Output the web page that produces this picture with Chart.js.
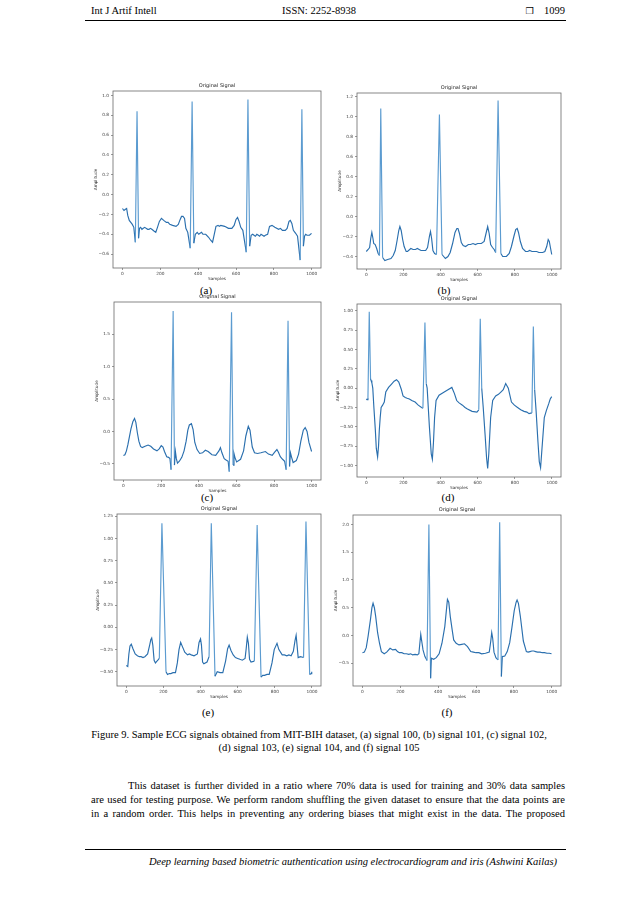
<!DOCTYPE html>
<html>
<head>
<meta charset="utf-8">
<script src="https://cdn.jsdelivr.net/npm/chart.js@4.4.0/dist/chart.umd.min.js"></script>
<style>
  body { margin: 0; background: #fff; }
  #page { position: relative; width: 638px; height: 902px; overflow: hidden; background: #fff;
          font-family: "Liberation Serif", "Times New Roman", serif; color: #000; }
  .t { position: absolute; font-size: 10.5px; line-height: 12px; white-space: nowrap; }
  .c { left: 0; width: 638px; text-align: center; }
  .j { position: absolute; font-size: 10.5px; line-height: 12px; text-align: justify; text-align-last: justify; white-space: nowrap; }
  .lab { position: absolute; width: 40px; font-size: 11px; line-height: 12px; text-align: center; }
  .plot { position: absolute; }
  .rule { position: absolute; left: 85px; width: 481px; height: 0; border-top: 0.8px solid #000; }
</style>
</head>
<body>
<div id="page">
  <div class="t" style="left:91px; top:5px;">Int J Artif Intell</div>
  <div class="t c" style="top:5px;">ISSN: 2252-8938</div>
  <div class="t" style="right:73px; top:5px;"><span style="font-family:'DejaVu Sans';font-size:9px;">&#10066;</span>&nbsp;&nbsp;&nbsp;&nbsp;1099</div>
  <div class="rule" style="top:20px;"></div>

  <div class="lab" style="left:186px; top:284px;">(a)</div>
  <div class="lab" style="left:424px; top:284px;">(b)</div>
  <div class="lab" style="left:187px; top:491px;">(c)</div>
  <div class="lab" style="left:428px; top:491px;">(d)</div>
  <div class="lab" style="left:188px; top:706px;">(e)</div>
  <div class="lab" style="left:427px; top:706px;">(f)</div>

  <div class="t c" style="top:729px;">Figure 9. Sample ECG signals obtained from MIT-BIH dataset, (a) signal 100, (b) signal 101, (c) signal 102,</div>
  <div class="t c" style="top:742px;">(d) signal 103, (e) signal 104, and (f) signal 105</div>

  <div class="j" style="left:128px; width:437px; top:780px;">This dataset is further divided in a ratio where 70% data is used for training and 30% data samples</div>
  <div class="j" style="left:91px; width:474px; top:794px;">are used for testing purpose. We perform random shuffling the given dataset to ensure that the data points are</div>
  <div class="j" style="left:91px; width:474px; top:808px;">in a random order. This helps in preventing any ordering biases that might exist in the data. The proposed</div>

  <div class="rule" style="top:849px;"></div>
  <div class="t" style="right:81px; top:856px; font-style:italic;">Deep learning based biometric authentication using electrocardiogram and iris (Ashwini Kailas)</div>
</div>

<script>
// sample index ticks shared by every panel
const sampleTicks = [0, 200, 400, 600, 800, 1000];

// [sample, amplitude]
// (a) signal 100
const sig100 = [[0,-0.14],[8,-0.16],[14,-0.15],[22,-0.14],[28,-0.21],[36,-0.26],[44,-0.28],[52,-0.30],[60,-0.33],[68,-0.48],[77,0.84],[85,-0.44],[90,-0.34],[96,-0.33],[103,-0.35],[110,-0.34],[118,-0.33],[125,-0.34],[133,-0.35],[140,-0.35],[148,-0.34],[155,-0.35],[168,-0.37],[176,-0.38],[185,-0.33],[195,-0.27],[206,-0.24],[218,-0.26],[232,-0.28],[241,-0.28],[250,-0.30],[265,-0.31],[283,-0.32],[295,-0.30],[305,-0.25],[312,-0.22],[320,-0.22],[328,-0.24],[335,-0.34],[345,-0.38],[358,-0.54],[368,0.94],[377,-0.49],[385,-0.40],[395,-0.38],[403,-0.40],[410,-0.39],[418,-0.38],[425,-0.40],[440,-0.40],[455,-0.43],[466,-0.46],[476,-0.48],[485,-0.40],[494,-0.32],[505,-0.31],[512,-0.32],[520,-0.31],[540,-0.32],[560,-0.34],[578,-0.34],[590,-0.31],[600,-0.25],[608,-0.23],[616,-0.27],[625,-0.33],[636,-0.36],[654,-0.58],[663,0.96],[672,-0.52],[680,-0.41],[688,-0.40],[695,-0.41],[702,-0.42],[710,-0.40],[718,-0.41],[725,-0.42],[732,-0.40],[740,-0.41],[748,-0.42],[755,-0.41],[767,-0.40],[777,-0.32],[790,-0.31],[805,-0.33],[825,-0.35],[835,-0.34],[845,-0.36],[860,-0.36],[870,-0.34],[880,-0.27],[887,-0.26],[895,-0.29],[903,-0.36],[915,-0.39],[925,-0.42],[939,-0.66],[948,0.86],[956,-0.52],[962,-0.42],[968,-0.40],[975,-0.41],[988,-0.41],[999,-0.39]];

// (b) signal 101
const sig101 = [[0,-0.35],[10,-0.33],[18,-0.31],[24,-0.22],[30,-0.16],[36,-0.22],[40,-0.27],[48,-0.28],[56,-0.32],[64,-0.37],[71,-0.39],[78,1.08],[88,-0.41],[100,-0.44],[115,-0.43],[133,-0.42],[145,-0.39],[156,-0.34],[166,-0.24],[175,-0.14],[181,-0.10],[188,-0.14],[196,-0.23],[204,-0.30],[215,-0.35],[222,-0.35],[240,-0.32],[252,-0.33],[265,-0.33],[275,-0.32],[285,-0.33],[295,-0.34],[305,-0.34],[320,-0.34],[330,-0.31],[340,-0.20],[346,-0.15],[352,-0.22],[359,-0.34],[368,-0.37],[378,-0.38],[394,1.02],[408,-0.38],[426,-0.42],[440,-0.40],[452,-0.36],[465,-0.27],[478,-0.16],[488,-0.12],[494,-0.12],[502,-0.17],[512,-0.26],[522,-0.29],[535,-0.30],[550,-0.28],[562,-0.28],[575,-0.27],[588,-0.28],[600,-0.27],[610,-0.27],[620,-0.27],[635,-0.25],[645,-0.17],[654,-0.10],[662,-0.17],[670,-0.28],[680,-0.31],[689,-0.33],[697,-0.36],[710,1.16],[725,-0.37],[735,-0.40],[755,-0.40],[770,-0.37],[782,-0.30],[795,-0.20],[805,-0.13],[813,-0.12],[820,-0.16],[830,-0.25],[842,-0.32],[858,-0.35],[870,-0.35],[880,-0.34],[893,-0.35],[905,-0.35],[918,-0.35],[930,-0.36],[950,-0.36],[962,-0.35],[972,-0.30],[980,-0.23],[986,-0.25],[992,-0.31],[999,-0.38]];

// (c) signal 102
const sig102 = [[0,-0.37],[8,-0.36],[16,-0.30],[24,-0.20],[32,-0.08],[40,0.04],[50,0.15],[59,0.20],[66,0.14],[74,-0.02],[82,-0.15],[91,-0.23],[100,-0.25],[115,-0.23],[131,-0.21],[145,-0.23],[160,-0.27],[178,-0.30],[190,-0.27],[201,-0.22],[210,-0.24],[218,-0.31],[230,-0.39],[240,-0.40],[247,-0.42],[253,-0.59],[264,1.86],[271,-0.52],[276,-0.31],[281,-0.42],[287,-0.49],[297,-0.46],[310,-0.40],[322,-0.30],[333,-0.15],[342,0.02],[350,0.10],[361,0.12],[370,0.03],[379,-0.17],[391,-0.28],[405,-0.34],[420,-0.33],[435,-0.29],[450,-0.31],[470,-0.36],[490,-0.37],[507,-0.30],[515,-0.25],[523,-0.33],[535,-0.42],[545,-0.44],[556,-0.46],[562,-0.62],[574,1.84],[582,-0.52],[587,-0.34],[592,-0.40],[601,-0.47],[622,-0.43],[638,-0.30],[650,-0.07],[663,0.08],[672,0.02],[684,-0.24],[696,-0.33],[712,-0.34],[730,-0.33],[754,-0.31],[770,-0.35],[790,-0.37],[803,-0.32],[815,-0.28],[823,-0.32],[833,-0.39],[845,-0.43],[856,-0.46],[864,-0.59],[874,1.71],[882,-0.54],[887,-0.33],[893,-0.40],[901,-0.48],[918,-0.45],[930,-0.35],[942,-0.15],[955,0.02],[965,0.06],[975,0.00],[985,-0.17],[999,-0.31]];

// (d) signal 103
const sig103 = [[0,-0.14],[4,-0.15],[9,-0.12],[16,0.99],[23,0.12],[26,0.10],[30,0.07],[35,0.00],[41,-0.25],[49,-0.55],[54,-0.78],[61,-0.89],[66,-0.75],[70,-0.55],[75,-0.38],[80,-0.25],[88,-0.22],[97,-0.18],[105,-0.05],[120,0.01],[135,0.05],[150,0.09],[163,0.11],[175,0.08],[188,-0.01],[198,-0.10],[210,-0.12],[220,-0.13],[232,-0.14],[245,-0.16],[263,-0.18],[280,-0.22],[298,-0.25],[305,-0.26],[316,0.85],[323,0.06],[328,0.00],[340,-0.50],[350,-0.85],[356,-0.92],[362,-0.70],[368,-0.38],[376,-0.16],[392,-0.09],[420,-0.05],[440,-0.02],[461,0.01],[475,-0.07],[487,-0.16],[500,-0.19],[518,-0.22],[532,-0.25],[545,-0.27],[570,-0.30],[596,-0.31],[606,-0.28],[614,0.90],[622,0.00],[630,-0.25],[640,-0.60],[648,-0.90],[654,-1.04],[660,-0.85],[670,-0.38],[681,-0.16],[697,-0.10],[712,-0.08],[725,-0.05],[738,-0.02],[751,0.06],[765,0.00],[782,-0.18],[798,-0.22],[815,-0.25],[832,-0.28],[850,-0.30],[865,-0.31],[877,-0.33],[892,-0.32],[900,0.80],[907,-0.02],[915,-0.30],[925,-0.70],[932,-0.95],[939,-1.03],[946,-0.80],[959,-0.38],[970,-0.29],[983,-0.20],[991,-0.14],[999,-0.11]];

// (e) signal 104
const sig104 = [[0,-0.43],[8,-0.44],[14,-0.30],[20,-0.21],[27,-0.19],[36,-0.24],[48,-0.30],[60,-0.32],[70,-0.33],[80,-0.33],[90,-0.34],[100,-0.33],[115,-0.30],[125,-0.21],[132,-0.14],[137,-0.12],[143,-0.20],[150,-0.37],[157,-0.40],[170,-0.37],[178,-0.35],[192,1.17],[214,-0.50],[222,-0.53],[232,-0.52],[240,-0.52],[252,-0.51],[265,-0.51],[275,-0.40],[284,-0.25],[293,-0.17],[303,-0.22],[315,-0.28],[330,-0.31],[340,-0.30],[350,-0.31],[365,-0.32],[383,-0.30],[392,-0.17],[400,-0.13],[405,-0.20],[411,-0.39],[418,-0.41],[435,-0.39],[446,-0.33],[458,1.17],[478,-0.55],[490,-0.50],[505,-0.51],[520,-0.51],[535,-0.38],[546,-0.24],[554,-0.20],[564,-0.26],[576,-0.31],[588,-0.34],[600,-0.35],[612,-0.36],[625,-0.37],[640,-0.35],[646,-0.24],[652,-0.11],[658,-0.18],[664,-0.36],[672,-0.39],[690,-0.38],[705,1.15],[726,-0.56],[735,-0.54],[745,-0.54],[758,-0.53],[770,-0.53],[785,-0.40],[797,-0.25],[812,-0.18],[822,-0.25],[840,-0.31],[852,-0.31],[865,-0.32],[876,-0.31],[888,-0.32],[900,-0.27],[909,-0.15],[915,-0.09],[920,-0.20],[926,-0.34],[938,-0.33],[955,-0.34],[968,1.19],[988,-0.53],[996,-0.52],[999,-0.50]];

// (f) signal 105
const sig105 = [[0,-0.31],[10,-0.30],[20,-0.22],[30,-0.01],[42,0.28],[50,0.50],[56,0.58],[63,0.50],[70,0.34],[80,0.05],[90,-0.14],[100,-0.29],[115,-0.33],[128,-0.30],[146,-0.23],[160,-0.26],[175,-0.25],[185,-0.29],[195,-0.31],[208,-0.31],[220,-0.33],[232,-0.33],[245,-0.34],[255,-0.33],[265,-0.35],[278,-0.34],[290,-0.35],[298,-0.33],[303,-0.15],[308,0.02],[313,-0.10],[320,-0.26],[330,-0.38],[341,-0.45],[351,2.00],[360,-0.77],[364,-0.41],[376,-0.43],[390,-0.40],[405,-0.33],[420,-0.14],[435,0.16],[449,0.65],[456,0.60],[464,0.34],[474,0.10],[482,-0.08],[495,-0.14],[510,-0.17],[525,-0.16],[539,-0.15],[555,-0.20],[572,-0.29],[586,-0.30],[600,-0.31],[615,-0.31],[630,-0.33],[650,-0.32],[670,-0.30],[678,-0.10],[683,0.05],[688,-0.05],[695,-0.30],[705,-0.40],[716,-0.44],[725,2.04],[734,-0.74],[739,-0.38],[752,-0.37],[765,-0.29],[778,-0.13],[790,0.15],[802,0.45],[812,0.60],[817,0.64],[824,0.58],[834,0.35],[850,-0.10],[866,-0.29],[875,-0.30],[885,-0.29],[895,-0.28],[905,-0.28],[915,-0.29],[925,-0.30],[938,-0.30],[950,-0.31],[962,-0.31],[975,-0.32],[987,-0.32],[999,-0.33]];

// amplitude ticks of each panel
const ticks100 = [-0.6, -0.4, -0.2, 0.0, 0.2, 0.4, 0.6, 0.8, 1.0];
const ticks101 = [-0.4, -0.2, 0.0, 0.2, 0.4, 0.6, 0.8, 1.0, 1.2];
const ticks102 = [-0.5, 0.0, 0.5, 1.0, 1.5];
const ticks103 = [-1.0, -0.75, -0.5, -0.25, 0.0, 0.25, 0.5, 0.75, 1.0];
const ticks104 = [-0.5, -0.25, 0.0, 0.25, 0.5, 0.75, 1.0, 1.25];
const ticks105 = [-0.5, 0.0, 0.5, 1.0, 1.5, 2.0];

Chart.defaults.font.family = "'DejaVu Sans', sans-serif";
Chart.defaults.color = '#444';

// box round the axes like matplotlib spines
const framePlugin = {
    id: 'frame',
    afterDatasetsDraw(chart) {
        const { ctx, chartArea: a } = chart;
        ctx.save();
        ctx.strokeStyle = '#6a6a6a';
        ctx.lineWidth = 0.8;
        ctx.strokeRect(a.left, a.top, a.right - a.left, a.bottom - a.top);
        ctx.restore();
    }
};

function fmt(v, dec) {
    const s = Math.abs(v).toFixed(dec);
    return (v < 0 ? '\u2212' : '') + s;
}

// steep QRS strokes look paler in the scan
function segColor(ctx) {
    return Math.abs(ctx.p1.parsed.y - ctx.p0.parsed.y) > 0.5 ? '#5b9bd0' : '#2a6fae';
}

/**
 * Build one "Original Signal" panel; box = axes rectangle on the page
 */
function drawPanel(p) {
    const [L, T, R, B] = p.box;
    const w = R - L + 30, h = B - T + 25;
    const wrap = document.createElement('div');
    wrap.className = 'plot';
    wrap.style.left = (L - 24) + 'px';
    wrap.style.top = (T - 10) + 'px';
    const canvas = document.createElement('canvas');
    canvas.width = w; canvas.height = h;
    canvas.style.width = w + 'px'; canvas.style.height = h + 'px';
    wrap.appendChild(canvas);
    document.getElementById('page').appendChild(wrap);

    const points = p.data.map(d => ({ x: d[0], y: d[1] }));

    new Chart(canvas.getContext('2d'), {
        type: 'line',
        data: {
            datasets: [{
                data: points,
                borderColor: '#2a6fae',
                borderWidth: 1.15,
                segment: { borderColor: segColor },
                pointRadius: 0,
                tension: 0,
                fill: false
            }]
        },
        options: {
            responsive: false,
            animation: false,
            events: [],
            layout: { padding: { left: 0, right: 6, top: 0, bottom: 0 } },
            plugins: {
                legend: { display: false },
                tooltip: { enabled: false },
                title: {
                    display: true,
                    text: 'Original Signal',
                    fullSize: false,
                    color: '#222',
                    font: { size: 5, weight: 'normal', lineHeight: '6px' },
                    padding: { top: 1.5, bottom: 2.5 }
                }
            },
            scales: {
                x: {
                    type: 'linear',
                    min: -50,
                    max: 1049,
                    afterBuildTicks: s => { s.ticks = sampleTicks.map(v => ({ value: v })); },
                    afterFit: s => { s.height = 15; },
                    ticks: { autoSkip: false, maxRotation: 0, padding: 1, font: { size: 4.3 }, callback: v => String(v) },
                    grid: { drawOnChartArea: false, drawTicks: true, tickLength: 2, color: '#555', lineWidth: 0.6 },
                    border: { display: false },
                    title: { display: true, text: 'Samples', color: '#333', font: { size: 4.2, lineHeight: '5px' }, padding: { top: 0, bottom: 2 } }
                },
                y: {
                    type: 'linear',
                    min: p.yMin,
                    max: p.yMax,
                    afterBuildTicks: s => { s.ticks = p.yTicks.map(v => ({ value: v })); },
                    afterFit: s => { s.width = 24; },
                    ticks: { autoSkip: false, padding: 2, font: { size: 4.3 }, callback: v => fmt(v, p.dec) },
                    grid: { drawOnChartArea: false, drawTicks: true, tickLength: 2, color: '#555', lineWidth: 0.6 },
                    border: { display: false },
                    title: { display: true, text: 'Amplitude', color: '#333', font: { size: 4.2, lineHeight: '5px' }, padding: { top: p.titlePad, bottom: 0 } }
                }
            }
        },
        plugins: [framePlugin]
    });
}

const panels = [
    { box: [113, 91, 321, 268], data: sig100, yTicks: ticks100, dec: 1, yMin: -0.74, yMax: 1.045, titlePad: 4.5 },
    { box: [357, 93, 561, 269], data: sig101, yTicks: ticks101, dec: 1, yMin: -0.525, yMax: 1.235, titlePad: 4.5 },
    { box: [114, 302, 321, 480], data: sig102, yTicks: ticks102, dec: 1, yMin: -0.75, yMax: 2.0, titlePad: 4 },
    { box: [357, 304, 561, 477], data: sig103, yTicks: ticks103, dec: 2, yMin: -1.15, yMax: 1.09, titlePad: 2.5 },
    { box: [117, 514, 321, 686], data: sig104, yTicks: ticks104, dec: 2, yMin: -0.66, yMax: 1.275, titlePad: 2.5 },
    { box: [353, 515, 561, 686], data: sig105, yTicks: ticks105, dec: 1, yMin: -0.91, yMax: 2.17, titlePad: 4 }
];

panels.forEach(drawPanel);
</script>
</body>
</html>
